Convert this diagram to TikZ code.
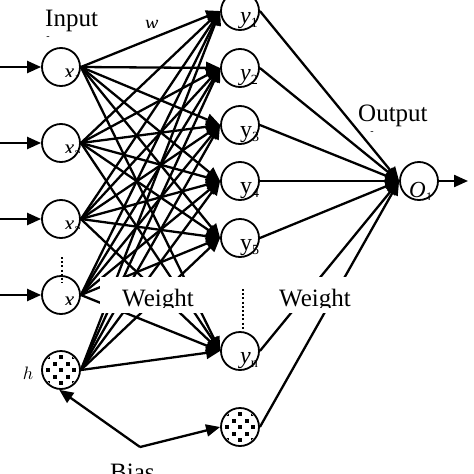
\documentclass[tikz,border=0pt]{standalone}
\usepackage{fontspec}
\setmainfont{Liberation Serif}
\usetikzlibrary{arrows.meta}
\begin{document}
\begin{tikzpicture}[x=1pt,y=-1pt,
  neuron/.style={circle,draw,line width=1.8pt,minimum size=38pt,inner sep=0pt,fill=white},
  conn/.style={line width=2.3pt,-{Triangle[length=14pt,width=12pt]}},
  big/.style={font=\fontsize{25}{25}\selectfont,inner sep=0pt,anchor=base west},
  sublbl/.style={inner sep=0pt,anchor=base west},
  dotline/.style={line width=2pt,dash pattern=on 2pt off 2.2pt},
  wbox/.style={fill=white,draw=none},
]
\useasboundingbox (0,0) rectangle (474,474);
% input layer
\node[neuron] (x1) at (61,67) {};
\node[neuron] (x2) at (61,143) {};
\node[neuron] (x3) at (61,219) {};
\node[neuron] (x4) at (61,295) {};
\node[neuron] (b) at (61,370) {};
% hidden layer
\node[neuron] (y1) at (240,11) {};
\node[neuron] (y2) at (240,68) {};
\node[neuron] (y3) at (240,125) {};
\node[neuron] (y4) at (240,181) {};
\node[neuron] (y5) at (240,238) {};
\node[neuron] (yn) at (240,351) {};
\node[neuron] (hb) at (240,427) {};
% output
\node[neuron] (o) at (419,181) {};
% bias patterns
\foreach \c in {b,hb}{
  \begin{scope}
    \clip (\c.center) circle (17.5pt);
    \foreach \i in {-3,...,3}{
      \foreach \j in {-3,...,3}{
        \pgfmathtruncatemacro\k{mod(\i+\j+20,2)}
        \ifnum\k=0
          \fill ([shift={(\i*6.5-2,\j*6.5-2)}]\c.center) rectangle +(4,4);
        \fi
      }
    }
  \end{scope}
}
% input arrows
\foreach \n/\yy in {x1/67,x2/143,x3/219,x4/295}{
  \coordinate (in-\n) at (0,\yy);
  \draw[conn] (in-\n) -- (\n.west);
}
% input -> hidden
\foreach \i in {x1,x2,x3,x4,b}{
  \foreach \j in {y1,y2,y3,y4,y5,yn}{
    \draw[conn] (\i.east) -- (\j.west);
  }
}
% hidden -> output
\foreach \j in {y1,y2,y3,y4,y5,yn,hb}{
  \draw[conn] (\j.east) -- (o.west);
}
\coordinate (out) at (468,181);
\draw[conn] (o.east) -- (out);
% bias arrows
\coordinate (bp) at (140,447);
\draw[conn] (bp) -- (b.-95);
\draw[conn] (bp) -- (hb.west);
% weight boxes
\fill[wbox] (100,277) rectangle (235,313);
\fill[wbox] (250,277) rectangle (380,313);
\begin{scope}
  \clip (90,280) rectangle (400,307);
  \node[big] (wl) at (122,306) {Weight};
  \node[big] (wr) at (279,306) {Weight};
\end{scope}
% dotted lines
\coordinate (d1a) at (62,257); \coordinate (d1b) at (62,283);
\draw[dotline] (d1a) -- (d1b);
\coordinate (d2a) at (243,289); \coordinate (d2b) at (243,329);
\draw[dotline] (d2a) -- (d2b);
% input labels (clipped)
\foreach \n/\s in {x1/1,x2/2,x3/3,x4/n}{
  \begin{scope}
    \clip ([shift={(-20,-20)}]\n.center) rectangle ([shift={(25,9.5)}]\n.center);
    \node[sublbl,font=\fontsize{23}{23}\selectfont\itshape] at ([shift={(3,12)}]\n.center) {x\raisebox{-4pt}{\fontsize{13}{13}\selectfont\upshape\s}};
  \end{scope}
}
% hidden labels (clipped)
\foreach \n/\s/\f in {y1/1/\itshape,y2/2/\itshape,y3/3/\upshape,y4/4/\upshape,y5/5/\upshape,yn/n/\itshape}{
  \begin{scope}
    \clip ([shift={(-20,-20)}]\n.center) rectangle ([shift={(30,18.5)}]\n.center);
    \node[sublbl,font=\fontsize{24}{24}\selectfont\f] at ([shift={(0,12)}]\n.center) {y\raisebox{-4pt}{\fontsize{14}{14}\selectfont\upshape\s}};
  \end{scope}
}
% output label
\begin{scope}
  \clip (395,160) rectangle (450,199.5);
  \node[sublbl,font=\fontsize{23}{23}\selectfont\itshape] (ol) at (409,197) {O\raisebox{-4pt}{\fontsize{13}{13}\selectfont\upshape 1}};
\end{scope}
% texts
\node[big] (tin) at (45,26) {Input};
\node[big] (tout) at (358,121) {Output};
\node[inner sep=0pt,font=\fontsize{10}{10}\selectfont] (d1) at (48,38) {-};
\node[inner sep=0pt,font=\fontsize{10}{10}\selectfont] (d2) at (372,133) {-};
\begin{scope}
  \clip (140,10) rectangle (170,27);
  \node[sublbl,font=\fontsize{20}{20}\selectfont\itshape] (tw) at (145,29) {w};
\end{scope}
\node[big] (tbias) at (110,480) {Bias};
\node[inner sep=0pt] (th) at (28,373) {\scalebox{1.8}{$h$}};
\end{tikzpicture}
\end{document}
